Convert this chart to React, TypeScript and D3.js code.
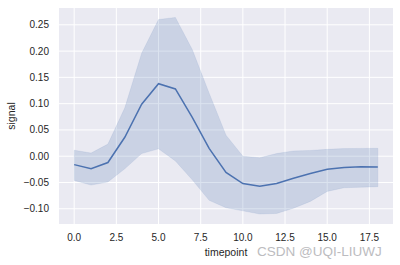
import React, { useEffect, useRef } from 'react';
import * as d3 from 'd3';

// fmri: mean signal per timepoint with 95% ci band
const timepoints = [0, 1, 2, 3, 4, 5, 6, 7, 8, 9, 10, 11, 12, 13, 14, 15, 16, 17, 18];
const signalMean = [-0.016, -0.024, -0.012, 0.036, 0.099, 0.138, 0.128, 0.074, 0.015, -0.031, -0.052, -0.057, -0.052, -0.042, -0.033, -0.025, -0.0215, -0.020, -0.0205];
const ciUpper = [0.0114, 0.006, 0.023, 0.092, 0.196, 0.260, 0.264, 0.203, 0.12, 0.040, 0.0, -0.003, 0.005, 0.010, 0.011, 0.013, 0.0145, 0.0148, 0.015];
const ciLower = [-0.046, -0.055, -0.049, -0.024, 0.005, 0.014, -0.009, -0.045, -0.084, -0.098, -0.104, -0.110, -0.109, -0.099, -0.086, -0.067, -0.060, -0.059, -0.058];
const xTicks = [0, 2.5, 5, 7.5, 10, 12.5, 15, 17.5];
const yTicks = [-0.1, -0.05, 0, 0.05, 0.1, 0.15, 0.2, 0.25];

const App = () => {
  const ref = useRef<SVGSVGElement | null>(null);

  useEffect(() => {
    const width = 400, height = 265;
    const margin = { top: 8, right: 7, bottom: 41, left: 59 };

    const svg = d3.select(ref.current);
    svg.selectAll('*').remove();
    svg.attr('width', width).attr('height', height)
      .attr('font-family', 'Arial, "Liberation Sans", sans-serif');

    const x = d3.scaleLinear().domain([-0.9, 18.9]).range([margin.left, width - margin.right]);
    const y = d3.scaleLinear().domain([-0.129, 0.282]).range([height - margin.bottom, margin.top]);

    svg.append('rect')
      .attr('x', margin.left).attr('y', margin.top)
      .attr('width', width - margin.left - margin.right)
      .attr('height', height - margin.top - margin.bottom)
      .attr('fill', '#EAEAF2');

    const grid = svg.append('g').attr('stroke', 'white').attr('stroke-width', 1);
    grid.selectAll('line.v').data(xTicks).enter().append('line')
      .attr('x1', d => x(d)).attr('x2', d => x(d))
      .attr('y1', margin.top).attr('y2', height - margin.bottom);
    grid.selectAll('line.h').data(yTicks).enter().append('line')
      .attr('y1', d => y(d)).attr('y2', d => y(d))
      .attr('x1', margin.left).attr('x2', width - margin.right);

    const band = d3.area<number>()
      .x((d, i) => x(timepoints[i]))
      .y0((d, i) => y(ciLower[i]))
      .y1((d, i) => y(ciUpper[i]));
    svg.append('path')
      .datum(timepoints)
      .attr('d', band)
      .attr('fill', '#4C72B0')
      .attr('fill-opacity', 0.2)
      .attr('stroke', '#4C72B0')
      .attr('stroke-opacity', 0.1);

    const line = d3.line<number>()
      .x((d, i) => x(timepoints[i]))
      .y((d) => y(d));
    svg.append('path')
      .datum(signalMean)
      .attr('d', line)
      .attr('fill', 'none')
      .attr('stroke', '#4C72B0')
      .attr('stroke-width', 1.5);

    svg.append('g').selectAll('text').data(xTicks).enter().append('text')
      .attr('x', d => x(d)).attr('y', 241)
      .attr('text-anchor', 'middle')
      .attr('font-size', 10).attr('fill', '#262626')
      .text(d => d.toFixed(1));

    svg.append('g').selectAll('text').data(yTicks).enter().append('text')
      .attr('x', 49).attr('y', d => y(d)).attr('dy', '0.35em')
      .attr('text-anchor', 'end')
      .attr('font-size', 10).attr('fill', '#262626')
      .text(d => (d < 0 ? '\u2212' : '') + Math.abs(d).toFixed(2));

    svg.append('text')
      .attr('x', (margin.left + width - margin.right) / 2).attr('y', 256)
      .attr('text-anchor', 'middle').attr('font-size', 10.5).attr('fill', '#262626')
      .text('timepoint');

    svg.append('text')
      .attr('transform', `translate(15,${(margin.top + height - margin.bottom) / 2}) rotate(-90)`)
      .attr('text-anchor', 'middle').attr('font-size', 10.5).attr('fill', '#262626')
      .text('signal');

    svg.append('text')
      .attr('x', 257).attr('y', 256)
      .attr('font-size', 13.5).attr('fill', '#bcbcc0')
      .text('CSDN @UQI-LIUWJ');
  }, []);

  return <svg ref={ref} style={{ position: 'absolute', left: 0, top: 0 }} />;
};

export default App;
